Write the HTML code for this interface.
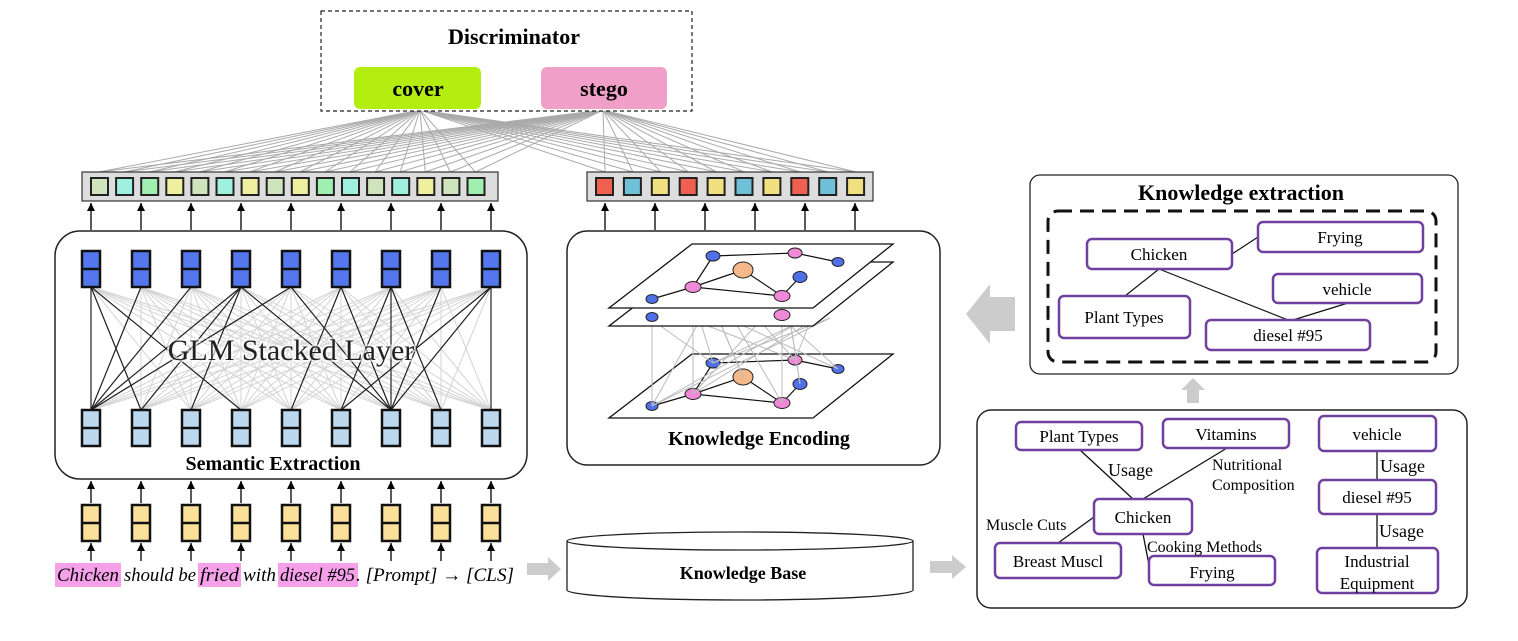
<!DOCTYPE html>
<html><head><meta charset="utf-8"><style>
html,body{margin:0;padding:0;background:#fff;}
svg{display:block;font-family:"Liberation Serif",serif;}
</style></head><body>
<svg id="s" width="1518" height="641" viewBox="0 0 1518 641" xmlns="http://www.w3.org/2000/svg">
<defs>
<marker id="ah" markerWidth="8" markerHeight="8" refX="8" refY="4" orient="auto" markerUnits="userSpaceOnUse"><path d="M0,0 L8,4 L0,8 z" fill="#000"/></marker>
</defs>
<g id="fan" stroke="#aaa" stroke-width="1"></g>
<!-- Discriminator -->
<rect x="321" y="11" width="371" height="100" fill="#fff" stroke="#222" stroke-width="1.2" stroke-dasharray="4,3"/>
<text x="514" y="44" font-size="22" font-weight="bold" text-anchor="middle">Discriminator</text>
<rect x="354" y="67" width="127" height="42" rx="6" fill="#b4ee10"/>
<text x="418" y="96" font-size="22" font-weight="bold" text-anchor="middle">cover</text>
<rect x="541" y="67" width="126" height="42" rx="6" fill="#f0a0c8"/>
<text x="604" y="96" font-size="22" font-weight="bold" text-anchor="middle">stego</text>
<!-- vector bars -->
<rect x="82" y="172" width="416" height="29" fill="#ddd" stroke="#333" stroke-width="1.2"/>
<rect x="587" y="172" width="286" height="29" fill="#ddd" stroke="#333" stroke-width="1.2"/>
<g id="sq" stroke="#222" stroke-width="2"></g>
<!-- Semantic box -->
<rect x="55" y="231" width="472" height="248" rx="25" fill="#fff" stroke="#222" stroke-width="1.5"/>
<g id="glm" stroke-width="1"></g>
<text x="291" y="360" font-size="30" text-anchor="middle" fill="#222" stroke="#fff" stroke-width="4" paint-order="stroke" stroke-opacity="0.6">GLM Stacked Layer</text>
<text x="273" y="470" font-size="20" font-weight="bold" text-anchor="middle">Semantic Extraction</text>
<g id="cells" stroke="#111" stroke-width="2.5"></g>
<g id="arr" stroke="#222" stroke-width="1.5"></g>
<!-- sentence -->
<rect x="55" y="563" width="66" height="24" fill="#f5a0e8"/>
<rect x="198" y="563" width="43" height="24" fill="#f5a0e8"/>
<rect x="278" y="563" width="80" height="24" fill="#f5a0e8"/>
<g font-size="19" font-style="italic">
<text x="57" y="581" textLength="62" lengthAdjust="spacingAndGlyphs">Chicken</text>
<text x="124" y="581" textLength="72" lengthAdjust="spacingAndGlyphs">should be</text>
<text x="200" y="581" textLength="39" lengthAdjust="spacingAndGlyphs">fried</text>
<text x="243" y="581" textLength="33" lengthAdjust="spacingAndGlyphs">with</text>
<text x="280" y="581" textLength="75" lengthAdjust="spacingAndGlyphs">diesel #95</text>
<text x="356" y="581" textLength="158" lengthAdjust="spacingAndGlyphs">. [Prompt] → [CLS]</text>
</g>
<!-- Knowledge Encoding -->
<rect x="567" y="231" width="373" height="234" rx="20" fill="#fff" stroke="#222" stroke-width="1.5"/>
<polygon points="609,418 813,418 893,354 692,354" fill="#fff" stroke="#111" stroke-width="1.3"/>
<g id="kgb"></g>
<g id="vlines" stroke="#bbb" stroke-width="1"></g>
<polygon points="609,326 813,326 893,262 692,262" fill="#fff" stroke="#111" stroke-width="1.3"/>
<ellipse cx="652" cy="317" rx="6" ry="4.5" fill="#5070e8" stroke="#222"/>
<ellipse cx="782" cy="315" rx="8" ry="5.5" fill="#f08ad8" stroke="#222"/>
<polygon points="609,308 813,308 893,244 692,244" fill="#fff" stroke="#111" stroke-width="1.3"/>
<g id="kgt"></g>
<text x="759" y="445" font-size="20" font-weight="bold" text-anchor="middle">Knowledge Encoding</text>
<!-- block arrows -->
<polygon points="527,563 548,563 548,557 561,569 548,581 548,575 527,575" fill="#ccc"/>
<polygon points="930,561 952,561 952,555 966,567 952,579 952,573 930,573" fill="#ccc"/>
<polygon points="1015,297 990,297 990,284 966,314 990,344 990,331 1015,331" fill="#ccc"/>
<polygon points="1187,403 1187,390 1181,390 1193,378 1205,390 1199,390 1199,403" fill="#ccc"/>
<!-- Knowledge base -->
<path d="M567,541 L567,590 A173,10 0 0 0 913,590 L913,541" fill="#fff" stroke="#222" stroke-width="1.3"/>
<ellipse cx="740" cy="541" rx="173" ry="9" fill="#fff" stroke="#222" stroke-width="1.3"/>
<text x="743" y="579" font-size="18" font-weight="bold" text-anchor="middle">Knowledge Base</text>
<!-- Knowledge extraction -->
<rect x="1030" y="175" width="428" height="199" rx="10" fill="#fff" stroke="#222" stroke-width="1.3"/>
<text x="1241" y="200" font-size="22" font-weight="bold" text-anchor="middle">Knowledge extraction</text>
<rect x="1048" y="211" width="388" height="151" rx="10" fill="none" stroke="#111" stroke-width="3" stroke-dasharray="14,8"/>
<g stroke="#111" stroke-width="1.2">
<line x1="1232" y1="254" x2="1258" y2="237"/>
<line x1="1159" y1="269" x2="1125" y2="296"/>
<line x1="1159" y1="269" x2="1288" y2="320"/>
<line x1="1348" y1="303" x2="1293" y2="320"/>
</g>
<g fill="#fff" stroke="#7040a0" stroke-width="2.5">
<rect x="1087" y="239" width="145" height="30" rx="5"/>
<rect x="1258" y="222" width="165" height="30" rx="5"/>
<rect x="1273" y="274" width="149" height="29" rx="5"/>
<rect x="1059" y="296" width="131" height="42" rx="5"/>
<rect x="1206" y="320" width="164" height="30" rx="5"/>
</g>
<g font-size="17" text-anchor="middle">
<text x="1159" y="260">Chicken</text>
<text x="1340" y="243">Frying</text>
<text x="1347" y="295">vehicle</text>
<text x="1124" y="323">Plant Types</text>
<text x="1288" y="341">diesel #95</text>
</g>
<!-- Knowledge graph box -->
<rect x="977" y="410" width="490" height="198" rx="14" fill="#fff" stroke="#222" stroke-width="1.5"/>
<g stroke="#111" stroke-width="1.3">
<line x1="1080" y1="450" x2="1133" y2="499"/>
<line x1="1227" y1="448" x2="1143" y2="499"/>
<line x1="1094" y1="517" x2="1058" y2="543"/>
<line x1="1143" y1="534" x2="1150" y2="570"/>
<line x1="1377" y1="451" x2="1377" y2="480"/>
<line x1="1377" y1="514" x2="1377" y2="548"/>
</g>
<g fill="#fff" stroke="#7040a0" stroke-width="2.5">
<rect x="1016" y="422" width="126" height="28" rx="5"/>
<rect x="1163" y="419" width="126" height="29" rx="5"/>
<rect x="1319" y="416" width="117" height="35" rx="5"/>
<rect x="1094" y="499" width="98" height="35" rx="5"/>
<rect x="995" y="543" width="126" height="35" rx="5"/>
<rect x="1149" y="556" width="126" height="29" rx="5"/>
<rect x="1319" y="480" width="117" height="34" rx="5"/>
<rect x="1317" y="548" width="121" height="45" rx="5"/>
</g>
<g font-size="17" text-anchor="middle">
<text x="1079" y="442">Plant Types</text>
<text x="1226" y="440">Vitamins</text>
<text x="1377" y="440">vehicle</text>
<text x="1143" y="523">Chicken</text>
<text x="1058" y="567">Breast Muscl</text>
<text x="1212" y="578">Frying</text>
<text x="1377" y="503">diesel #95</text>
<text x="1377" y="567">Industrial</text>
<text x="1377" y="589">Equipment</text>
</g>
<g font-size="18">
<text x="1108" y="476">Usage</text>
<text x="1380" y="472">Usage</text>
<text x="1379" y="537">Usage</text>
</g>
<g font-size="16">
<text x="1212" y="470">Nutritional</text>
<text x="1212" y="490">Composition</text>
<text x="986" y="530">Muscle Cuts</text>
<text x="1147" y="552">Cooking Methods</text>
</g>
</svg>
<script>
var NS="http://www.w3.org/2000/svg";
function el(p,t,a){var e=document.createElementNS(NS,t);for(var k in a)e.setAttribute(k,a[k]);document.getElementById(p).appendChild(e);return e;}
var lc=["#cfe3bd","#a0f0e0","#a0eeb0","#eef0a0","#cfe3bd","#a0f0e0","#eef0a0","#cfe3bd","#eef0a0","#a0eeb0","#a0f0e0","#cfe3bd","#a0f0e0","#eef0a0","#cfe3bd","#a0eeb0"];
var rc=["#f06050","#70c0d8","#f0e080","#f06050","#f0e080","#70c0d8","#f0e080","#f06050","#70c0d8","#f0e080"];
var tops=[];
for(var i=0;i<16;i++){var x=91+i*25.1;tops.push(x+8);el("sq","rect",{x:x,y:178,width:17,height:17,fill:lc[i]});}
for(var i=0;i<10;i++){var x=596+i*27.9;tops.push(x+9);el("sq","rect",{x:x,y:178,width:17,height:17,fill:rc[i]});}
tops.forEach(function(t){el("fan","line",{x1:420,y1:110,x2:t,y2:172});el("fan","line",{x1:603,y1:110,x2:t,y2:172});});
var cx=[];for(var i=0;i<9;i++)cx.push(91+i*50);
for(var i=0;i<9;i++)for(var j=0;j<9;j++)el("glm","line",{x1:cx[i],y1:287,x2:cx[j],y2:410,stroke:"#d4d4d4"});
var blk=[[1,0],[2,0],[3,0],[4,0],[0,0],[0,1],[0,3],[3,1],[3,2],[3,6],[4,6],[5,6],[6,6],[7,6],[8,6],[6,7],[6,5],[8,5],[8,8],[5,4]];
blk.forEach(function(p){el("glm","line",{x1:cx[p[0]],y1:287,x2:cx[p[1]],y2:410,stroke:"#222","stroke-width":1.2});});
cx.forEach(function(x){
 [[251,"#5577ee"],[410,"#bcd8ee"],[505,"#fbe09a"]].forEach(function(c){
  el("cells","rect",{x:x-9,y:c[0],width:18,height:36,fill:c[1]});
  el("cells","line",{x1:x-9,y1:c[0]+18,x2:x+9,y2:c[0]+18});
 });
 el("arr","line",{x1:x,y1:230,x2:x,y2:203,"marker-end":"url(#ah)"});
 el("arr","line",{x1:x,y1:503,x2:x,y2:481,"marker-end":"url(#ah)"});
 el("arr","line",{x1:x,y1:561,x2:x,y2:543,"marker-end":"url(#ah)"});
});
[605,655,705,755,805,855].forEach(function(x){el("arr","line",{x1:x,y1:230,x2:x,y2:203,"marker-end":"url(#ah)"});});
function graph(g,dy){
 var n={b1:[713,256,7,5,"#5070e8"],p1:[795,253,7,5,"#f08ad8"],b2:[838,262,6,4.5,"#5070e8"],o:[743,270,10,8,"#f5b88a"],b3:[800,277,7,5.5,"#5070e8"],pa:[693,287,8,5.5,"#f08ad8"],pb:[782,296,8,5.5,"#f08ad8"],bl:[652,299,6,4.5,"#5070e8"]};
 [["b1","p1"],["p1","b2"],["b1","pa"],["pa","o"],["o","pb"],["b3","pb"],["pa","pb"],["bl","pa"]].forEach(function(e){el(g,"line",{x1:n[e[0]][0],y1:n[e[0]][1]+dy,x2:n[e[1]][0],y2:n[e[1]][1]+dy,stroke:"#111","stroke-width":1.2});});
 for(var k in n){var v=n[k];el(g,"ellipse",{cx:v[0],cy:v[1]+dy,rx:v[2],ry:v[3],fill:v[4],stroke:"#222","stroke-width":1});}
}
graph("kgb",107);graph("kgt",0);
var up=[[652,320],[693,320],[700,320],[720,322],[735,322],[760,321],[782,318],[790,320],[800,322],[810,322],[830,318]];
var dn=[[652,406],[693,394],[713,363],[743,377],[782,403],[795,360],[838,369],[800,384]];
up.forEach(function(u,i){el("vlines","line",{x1:u[0],y1:u[1],x2:dn[i%8][0],y2:dn[i%8][1]});el("vlines","line",{x1:u[0],y1:u[1],x2:dn[(i*3+2)%8][0],y2:dn[(i*3+2)%8][1]});});
</script>
</body></html>
